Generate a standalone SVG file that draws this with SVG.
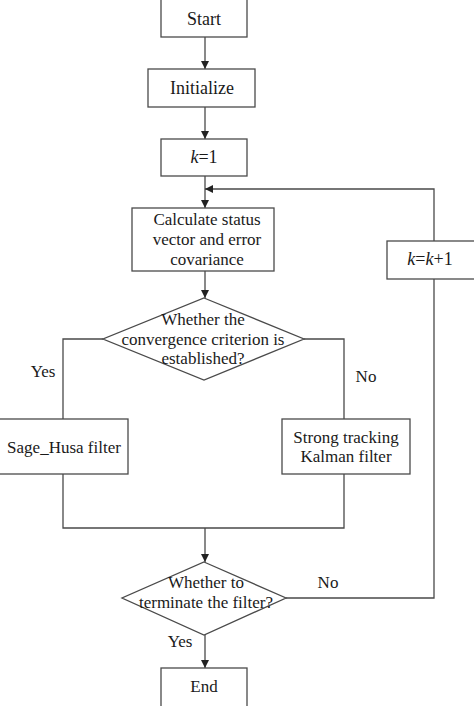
<svg xmlns="http://www.w3.org/2000/svg" width="474" height="706" viewBox="0 0 474 706" font-family="Liberation Serif, DejaVu Serif, serif">
<style>
.n{fill:#fff;stroke:#4a4a4a;stroke-width:1.3}
.c{fill:none;stroke:#4a4a4a;stroke-width:1.3}
text{font-size:17px;fill:#1a1a1a;text-anchor:middle}
.big{font-size:18px}
</style>
<defs>
<marker id="ah" viewBox="0 0 10 10" refX="10" refY="5" markerWidth="8" markerHeight="8" markerUnits="userSpaceOnUse" orient="auto">
<path d="M0,0 L10,5 L0,10 Z" fill="#222"/>
</marker>
</defs>
<rect width="474" height="706" fill="#fff"/>
<g id="connectors">
<line class="c" x1="205" y1="37" x2="205" y2="69" marker-end="url(#ah)"/>
<line class="c" x1="205" y1="107" x2="205" y2="139" marker-end="url(#ah)"/>
<line class="c" x1="205" y1="176" x2="205" y2="208" marker-end="url(#ah)"/>
<polyline class="c" points="434,241 434,189 205,189" marker-end="url(#ah)"/>
<line class="c" x1="205" y1="271" x2="205" y2="298" marker-end="url(#ah)"/>
<polyline class="c" points="103,339 63,339 63,419"/>
<polyline class="c" points="304,339 344,339 344,419"/>
<polyline class="c" points="63,474 63,528 344,528 344,474"/>
<line class="c" x1="205" y1="528" x2="205" y2="562" marker-end="url(#ah)"/>
<polyline class="c" points="286,598 434,598 434,279"/>
<line class="c" x1="205" y1="635" x2="205" y2="668" marker-end="url(#ah)"/>
<text x="43" y="377">Yes</text>
<text x="366" y="382">No</text>
<text x="328" y="588">No</text>
<text x="180" y="647">Yes</text>
</g>
<g id="start">
<rect class="n" x="161" y="-2" width="86" height="39"/>
<text class="big" x="204" y="25">Start</text>
</g>
<g id="initialize">
<rect class="n" x="148" y="69" width="107" height="38"/>
<text class="big" x="202" y="94">Initialize</text>
</g>
<g id="k1">
<rect class="n" x="161" y="139" width="86" height="37"/>
<text class="big" x="204" y="163"><tspan font-style="italic">k</tspan>=1</text>
</g>
<g id="calc">
<rect class="n" x="132" y="208" width="142" height="63"/>
<text x="207" y="225">Calculate status</text>
<text x="207" y="245">vector and error</text>
<text x="207" y="265">covariance</text>
</g>
<g id="kinc">
<rect class="n" x="387" y="241" width="95" height="38"/>
<text class="big" x="430" y="265"><tspan font-style="italic">k</tspan>=<tspan font-style="italic">k</tspan>+1</text>
</g>
<g id="converge">
<polygon class="n" points="204,298 304,339 204,380 103,339"/>
<text x="203" y="325">Whether the</text>
<text x="203" y="345">convergence criterion is</text>
<text x="203" y="364">established?</text>
</g>
<g id="sagehusa">
<rect class="n" x="-2" y="419" width="130" height="55"/>
<text x="64" y="453">Sage_Husa filter</text>
</g>
<g id="strong">
<rect class="n" x="282" y="419" width="128" height="55"/>
<text x="346" y="443">Strong tracking</text>
<text x="346" y="462">Kalman filter</text>
</g>
<g id="terminate">
<polygon class="n" points="204,562 286,598 204,635 122,598"/>
<text x="206" y="588">Whether to</text>
<text x="206" y="608">terminate the filter?</text>
</g>
<g id="end">
<rect class="n" x="161" y="668" width="86" height="42"/>
<text x="204" y="692">End</text>
</g>
</svg>
